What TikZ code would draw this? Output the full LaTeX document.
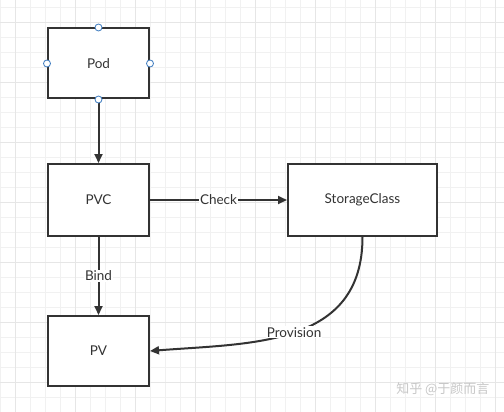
\documentclass[tikz,border=0pt]{standalone}
\usepackage{fontspec}
\setmainfont{Lato}
\newfontfamily\cjkfont{Noto Sans CJK SC}
\usetikzlibrary{arrows.meta}
\definecolor{edge}{HTML}{333333}
\definecolor{gridminor}{HTML}{F1F1F1}
\definecolor{gridmajor}{HTML}{E6E6E6}
\definecolor{handle}{HTML}{3D7BBF}
\definecolor{wm}{HTML}{C8C8C8}
\begin{document}
\begin{tikzpicture}[x=1pt,y=-1pt,
  box/.style={draw=edge,line width=2pt,fill=white,minimum width=101pt,minimum height=70pt,inner sep=0pt,font=\fontsize{13.5}{15}\selectfont,text=edge},
  conn/.style={draw=edge,line width=2pt,-{Triangle[length=9pt,width=8pt]}},
  lbl/.style={fill=white,inner sep=1pt,font=\fontsize{13.5}{15}\selectfont,text=edge},
  hdl/.style={circle,draw=handle,fill=white,line width=0.8pt,minimum size=7pt,inner sep=0pt}]
\useasboundingbox (0,0) rectangle (504,412);
\fill[white] (0,0) rectangle (504,412);
\foreach \x in {0,15,...,504} \draw[gridminor,line width=0.7pt] (\x,0) -- (\x,412);
\foreach \y in {7.5,22.5,...,412} \draw[gridminor,line width=0.7pt] (0,\y) -- (504,\y);
\foreach \x in {15,75,...,504} \draw[gridmajor,line width=0.7pt] (\x,0) -- (\x,412);
\foreach \y in {22.5,82.5,...,412} \draw[gridmajor,line width=0.7pt] (0,\y) -- (504,\y);
\node[box] (pod) at (98.5,63.5) {Pod};
\node[box,minimum height=72pt] (pvc) at (98.5,200) {PVC};
\node[box,minimum width=149pt,minimum height=72pt] (sc) at (362.5,200) {StorageClass};
\node[box] (pv) at (98.5,351) {PV};
\draw[conn] (pod.south) -- (pvc.north);
\draw[conn] (pvc.east) -- node[lbl,pos=0.5] {Check} (sc.west);
\draw[conn] (pvc.south) -- node[lbl,pos=0.5] {Bind} (pv.north);
\draw[conn] (sc.south) .. controls +(0,110) and +(101,-8) .. node[lbl,pos=0.5] {Provision} (pv.east);
\node[hdl] (h1) at (pod.north) {};
\node[hdl] (h2) at (pod.west) {};
\node[hdl] (h3) at (pod.east) {};
\node[hdl] (h4) at (pod.south) {};
\node[text=wm,font=\cjkfont\fontsize{13}{15}\selectfont,anchor=east] (wmk) at (493,389) {知乎 @于颜而言};
\end{tikzpicture}
\end{document}
